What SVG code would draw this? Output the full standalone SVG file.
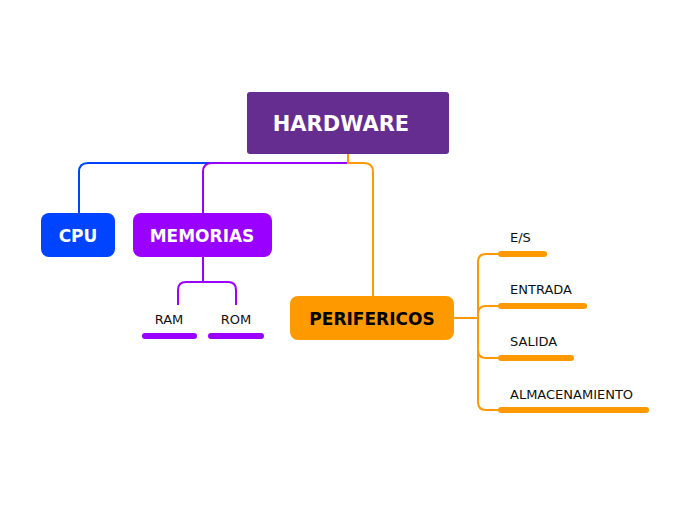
<svg xmlns="http://www.w3.org/2000/svg" width="696" height="520" viewBox="0 0 696 520">
<style>
.t{font-family:Verdana,"DejaVu Sans",sans-serif;font-weight:bold;fill:#fff}
.s{font-family:Verdana,"DejaVu Sans",sans-serif;font-size:13px;fill:#111}
.c{fill:none;stroke-width:2}
.bar{stroke-linecap:round;stroke-width:6}
</style>
<rect width="696" height="520" fill="#fff"/>
<g id="connectors">
<path class="c" stroke="#0044ff" d="M348 163 H88 Q79 163 79 172 V214"/>
<path class="c" stroke="#9900ff" d="M348 153 V163 H212 Q203 163 203 172 V214"/>
<path class="c" stroke="#ff9900" d="M348 153 V163 H364 Q373 163 373 172 V297"/>
<path class="c" stroke="#9900ff" stroke-width="1.5" d="M203 257 V282 M178 305 V290 Q178 282 186 282 H228 Q236 282 236 290 V305"/>
<path class="c" stroke="#ff9900" stroke-width="1.5" d="M454 318 H478 M499 254 H486 Q478 254 478 262 V402 Q478 410 486 410 H499 M499 306 H486 Q478 306 478 314 M499 358 H486 Q478 358 478 350"/>
</g>
<g id="hardware"><rect x="247" y="92" width="202" height="62" rx="3" fill="#662d91"/><text class="t" x="341" y="131" font-size="21" text-anchor="middle">HARDWARE</text></g>
<g id="cpu"><rect x="41" y="213" width="74" height="44" rx="8" fill="#0044ff"/><text class="t" x="78" y="242" font-size="17" text-anchor="middle">CPU</text></g>
<g id="memorias"><rect x="133" y="213" width="139" height="44" rx="8" fill="#9900ff"/><text class="t" x="202" y="242" font-size="17" text-anchor="middle">MEMORIAS</text></g>
<g id="perifericos"><rect x="290" y="296" width="164" height="44" rx="8" fill="#ff9900"/><text class="t" x="372" y="325" font-size="17" text-anchor="middle" fill="#000" style="fill:#000">PERIFERICOS</text></g>
<g id="ram"><text class="s" x="169" y="324" text-anchor="middle">RAM</text><line class="bar" x1="145" y1="336" x2="194" y2="336" stroke="#9900ff"/></g>
<g id="rom"><text class="s" x="236" y="324" text-anchor="middle">ROM</text><line class="bar" x1="211" y1="336" x2="261" y2="336" stroke="#9900ff"/></g>
<g id="es"><text class="s" x="510" y="242">E/S</text><line class="bar" x1="501" y1="254" x2="544" y2="254" stroke="#ff9900"/></g>
<g id="entrada"><text class="s" x="510" y="294">ENTRADA</text><line class="bar" x1="501" y1="306" x2="584" y2="306" stroke="#ff9900"/></g>
<g id="salida"><text class="s" x="510" y="346">SALIDA</text><line class="bar" x1="501" y1="358" x2="571" y2="358" stroke="#ff9900"/></g>
<g id="almac"><text class="s" x="510" y="399">ALMACENAMIENTO</text><line class="bar" x1="501" y1="410" x2="646" y2="410" stroke="#ff9900"/></g>
</svg>
